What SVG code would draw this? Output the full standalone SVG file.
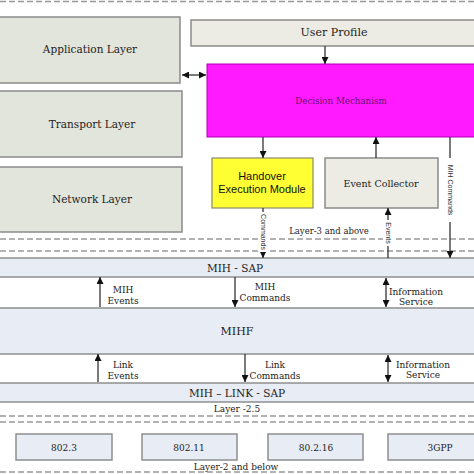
<svg xmlns="http://www.w3.org/2000/svg" width="474" height="474" viewBox="0 0 474 474">
<style>
.serif{font-family:"DejaVu Serif","Liberation Serif",serif;fill:#222;text-anchor:middle}
.sans{font-family:"Liberation Sans",Arial,sans-serif;fill:#111;text-anchor:middle}
.layer{fill:#e2e5dc;stroke:#8a8a8a;stroke-width:1.5}
.grey{fill:#ecece4;stroke:#8a8a8a;stroke-width:1.5}
.bar{fill:#e7ecf5;stroke:#8f8f8f;stroke-width:1.5}
.dash{stroke:#999;stroke-width:1.5;stroke-dasharray:6 3;fill:none}
.ln{stroke:#333;stroke-width:1.3;fill:none}
</style>
<defs>
<marker id="ah" viewBox="0 0 10 10" refX="10" refY="5" markerWidth="7" markerHeight="7" orient="auto-start-reverse" markerUnits="userSpaceOnUse">
<path d="M0,0 L10,5 L0,10 z" fill="#111"/>
</marker>
</defs>
<rect width="474" height="474" fill="#fff"/>
<g id="dashes">
<line class="dash" x1="0" y1="1.5" x2="474" y2="1.5"/>
<line class="dash" x1="0" y1="239" x2="474" y2="239"/>
<line class="dash" x1="0" y1="251" x2="474" y2="251"/>
<line class="dash" x1="0" y1="416" x2="474" y2="416"/>
<line class="dash" x1="0" y1="422" x2="474" y2="422"/>
<line class="dash" x1="0" y1="472" x2="474" y2="472" stroke-width="2.5"/>
</g>
<g id="app"><rect class="layer" x="-2" y="17" width="182" height="66"/><text class="serif" x="90" y="53" font-size="10.5">Application Layer</text></g>
<g id="transport"><rect class="layer" x="-2" y="91" width="184" height="66"/><text class="serif" x="92" y="128" font-size="10.5">Transport Layer</text></g>
<g id="network"><rect class="layer" x="-2" y="167" width="184" height="65"/><text class="serif" x="92" y="203" font-size="10.5">Network Layer</text></g>
<g id="userprofile"><rect class="grey" x="191" y="20" width="290" height="26"/><text class="serif" x="334" y="36" font-size="11">User  Profile</text></g>
<g id="decision"><rect x="207" y="64" width="275" height="73" fill="#ff1aff" stroke="#b000b0" stroke-width="1"/><text x="341" y="104" font-size="8.7" font-family="DejaVu Serif,Liberation Serif,serif" fill="#6a1475" text-anchor="middle">Decision Mechanism</text></g>
<g id="handover"><rect x="212" y="158" width="101" height="50" fill="#ffff33" stroke="#8a8a6a" stroke-width="1.2"/><text class="sans" x="262" y="180" font-size="11">Handover</text><text class="sans" x="262" y="193" font-size="11">Execution Module</text></g>
<g id="eventcollector"><rect class="grey" x="325" y="158" width="113" height="50"/><text class="serif" x="381" y="187" font-size="9.5">Event Collector</text></g>
<g id="mihsap"><rect class="bar" x="-2" y="258" width="478" height="19"/><text class="serif" x="235" y="272" font-size="10.5">MIH - SAP</text></g>
<g id="mihf"><rect class="bar" x="-2" y="308" width="478" height="46"/><text class="serif" x="237" y="335" font-size="11">MIHF</text></g>
<g id="mihlinksap"><rect class="bar" x="-2" y="383" width="478" height="19"/><text class="serif" x="237" y="397" font-size="10.5">MIH – LINK - SAP</text></g>
<g id="b8023"><rect class="bar" x="16" y="434" width="96" height="26"/><text class="serif" x="64" y="451" font-size="9">802.3</text></g>
<g id="b80211"><rect class="bar" x="142" y="434" width="95" height="26"/><text class="serif" x="189" y="451" font-size="9">802.11</text></g>
<g id="b80216"><rect class="bar" x="268" y="434" width="95" height="26"/><text class="serif" x="316" y="451" font-size="9">80.2.16</text></g>
<g id="b3gpp"><rect class="bar" x="388" y="434" width="100" height="26"/><text class="serif" x="440" y="451" font-size="9">3GPP</text></g>
<g id="labels" class="serif" font-size="9">
<text x="329" y="234" font-size="8.5">Layer-3 and above</text>
<text x="237" y="412" font-size="9">Layer -2.5</text>
<text x="236" y="470" font-size="9">Layer-2 and below</text>
<text x="123" y="293">MIH</text><text x="123" y="304">Events</text>
<text x="265" y="290">MIH</text><text x="265" y="301">Commands</text>
<text x="416" y="295">Information</text><text x="416" y="305">Service</text>
<text x="123" y="368">Link</text><text x="123" y="379">Events</text>
<text x="275" y="368">Link</text><text x="275" y="379">Commands</text>
<text x="423" y="368">Information</text><text x="423" y="378">Service</text>
</g>
<g id="connectors">
<line class="ln" x1="182" y1="75" x2="206" y2="75" marker-start="url(#ah)" marker-end="url(#ah)"/>
<line class="ln" x1="325" y1="46" x2="325" y2="64" marker-end="url(#ah)"/>
<line class="ln" x1="263" y1="137" x2="263" y2="158" marker-end="url(#ah)"/>
<line class="ln" x1="376" y1="158" x2="376" y2="137" marker-end="url(#ah)"/>
<line class="ln" x1="263" y1="208" x2="263" y2="258" marker-end="url(#ah)"/>
<line class="ln" x1="388" y1="258" x2="388" y2="208" marker-end="url(#ah)"/>
<line class="ln" x1="450" y1="137" x2="450" y2="258" marker-end="url(#ah)"/>
<line class="ln" x1="100" y1="307" x2="100" y2="277" marker-end="url(#ah)"/>
<line class="ln" x1="235" y1="277" x2="235" y2="307" marker-end="url(#ah)"/>
<line class="ln" x1="386" y1="278" x2="386" y2="307" marker-start="url(#ah)" marker-end="url(#ah)"/>
<line class="ln" x1="98" y1="382" x2="98" y2="354" marker-end="url(#ah)"/>
<line class="ln" x1="245" y1="354" x2="245" y2="382" marker-end="url(#ah)"/>
<line class="ln" x1="388" y1="355" x2="388" y2="382" marker-start="url(#ah)" marker-end="url(#ah)"/>
</g>
<g id="vlabels" font-family="Liberation Sans,Arial,sans-serif" font-size="7" fill="#333" text-anchor="middle">
<rect x="258" y="212" width="10" height="40" fill="#fff"/>
<text transform="translate(260.5,232) rotate(90)">Commands</text>
<rect x="383" y="220" width="10" height="26" fill="#fff"/>
<text transform="translate(385.5,233) rotate(90)">Events</text>
<rect x="445" y="158" width="10" height="64" fill="#fff"/>
<text transform="translate(447.5,190) rotate(90)">MIH Commands</text>
</g>
</svg>
